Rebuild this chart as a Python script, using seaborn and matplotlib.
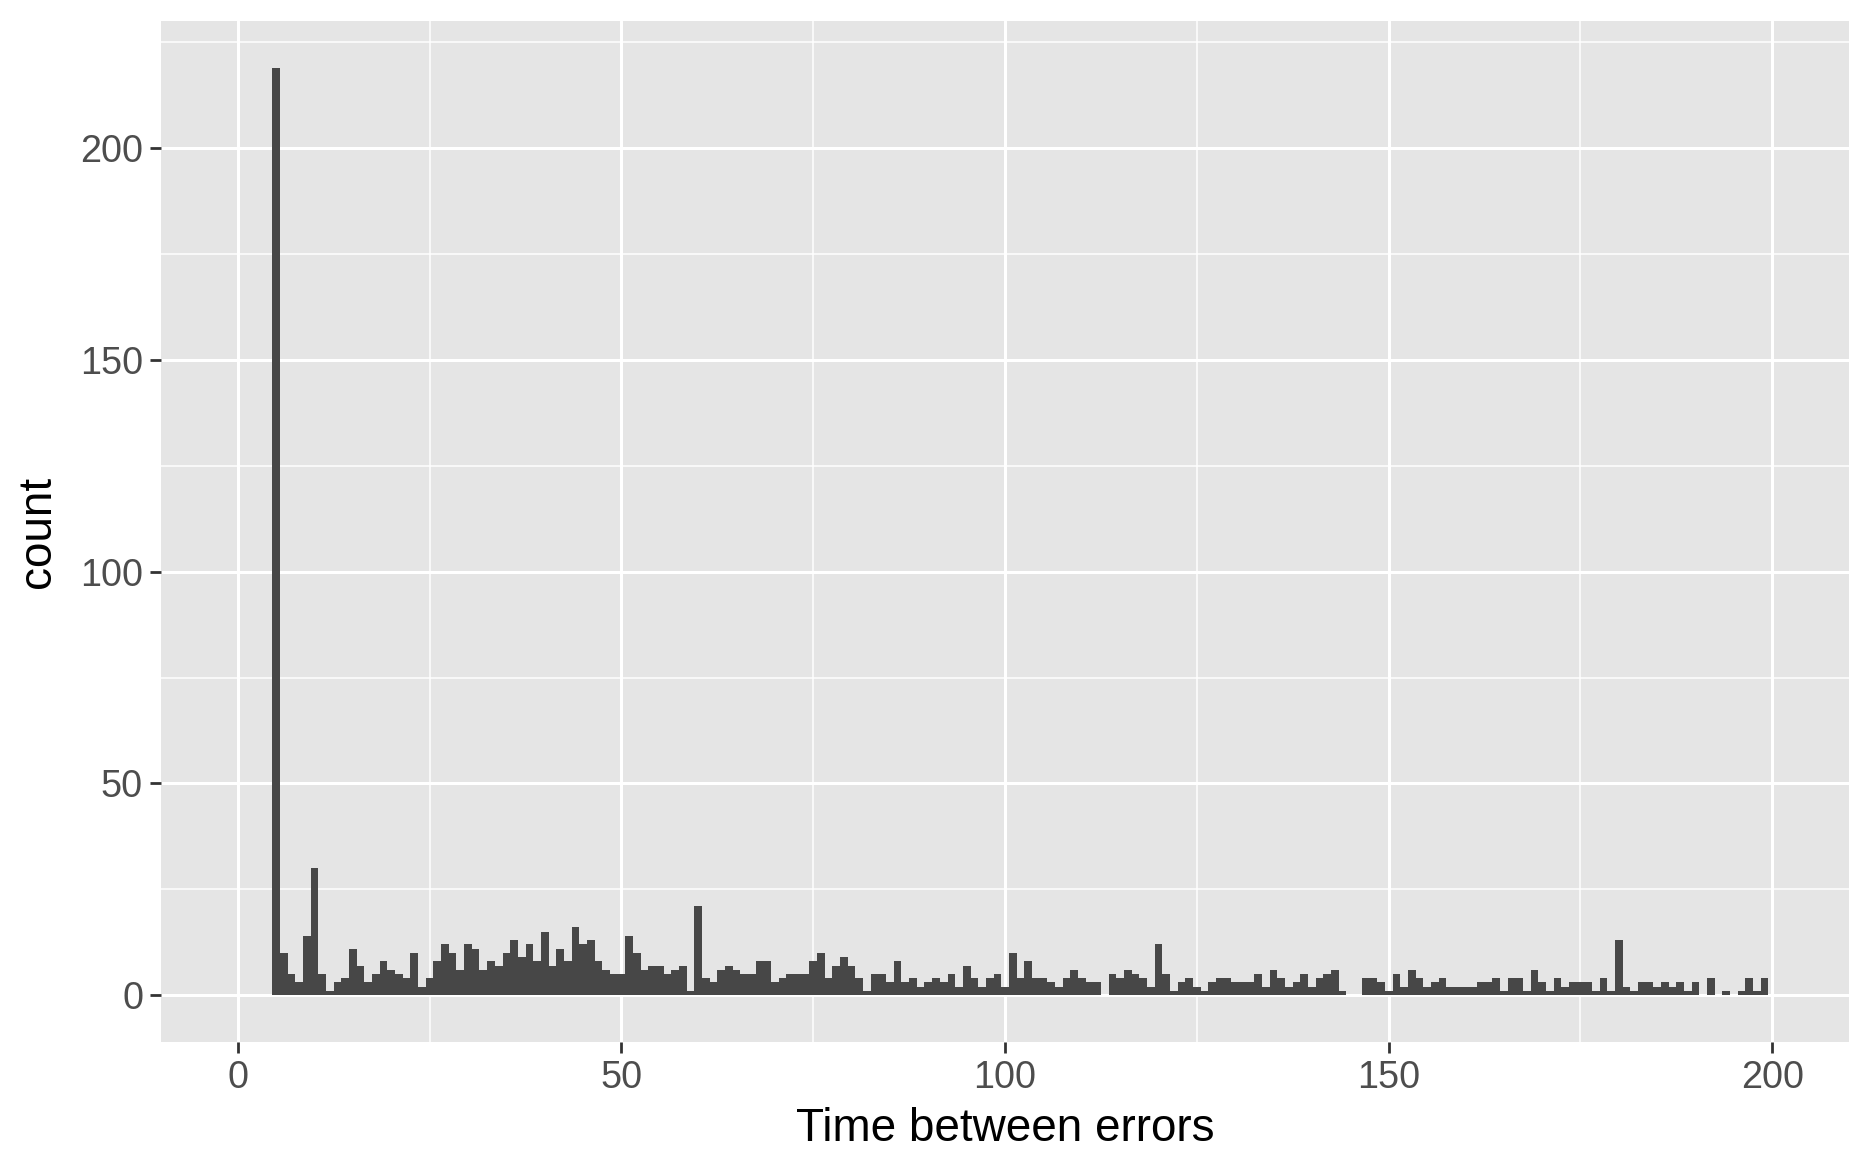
import numpy as np
import pandas as pd
import matplotlib
matplotlib.use("Agg")
import matplotlib.pyplot as plt
import seaborn as sns

# Data: integer "time between errors" values and their counts (binwidth 1)
times = list(range(5, 200))
counts = [
    219, 10, 5, 3, 14, 30, 5, 1, 3, 4,          # 5-14
    11, 7, 3, 5, 8, 6, 5, 4, 10, 2,             # 15-24
    4, 8, 12, 10, 6, 12, 11, 6, 8, 7,           # 25-34
    10, 13, 9, 12, 8, 15, 7, 11, 8, 16,         # 35-44
    12, 13, 8, 6, 5, 5, 14, 10, 6, 7,           # 45-54
    7, 5, 6, 7, 1, 21, 4, 3, 6, 7,              # 55-64
    6, 5, 5, 8, 8, 3, 4, 5, 5, 5,               # 65-74
    8, 10, 4, 7, 9, 7, 4, 1, 5, 5,              # 75-84
    3, 8, 3, 4, 2, 3, 4, 3, 5, 2,               # 85-94
    7, 4, 2, 4, 5, 2, 10, 4, 8, 4,              # 95-104
    4, 3, 2, 4, 6, 4, 3, 3, 0, 5,               # 105-114
    4, 6, 5, 4, 2, 12, 5, 1, 3, 4,              # 115-124
    2, 1, 3, 4, 4, 3, 3, 3, 5, 2,               # 125-134
    6, 4, 2, 3, 5, 2, 4, 5, 6, 1,               # 135-144
    0, 0, 4, 4, 3, 1, 5, 2, 6, 4,               # 145-154
    2, 3, 4, 2, 2, 2, 2, 3, 3, 4,               # 155-164
    1, 4, 4, 1, 6, 3, 1, 4, 2, 3,               # 165-174
    3, 3, 1, 4, 1, 13, 2, 1, 3, 3,              # 175-184
    2, 3, 2, 3, 1, 3, 0, 4, 0, 1,               # 185-194
    0, 1, 4, 1, 4,                              # 195-199
]
x_ticks = [0, 50, 100, 150, 200]
y_ticks = [0, 50, 100, 150, 200]
x_label = "Time between errors"
y_label = "count"

df = pd.DataFrame({"time": times, "n": counts})

sns.set_theme(style="darkgrid")
plt.rcParams["font.family"] = ["Liberation Sans", "DejaVu Sans"]

fig = plt.figure(figsize=(1873 / 200, 1167 / 200), dpi=200)
ax = fig.add_axes([0.086, 0.1075, 0.9012, 0.8741])

sns.histplot(data=df, x="time", weights="n", discrete=True, shrink=1.0,
             color="#474747", alpha=1.0, linewidth=0, edgecolor="none", ax=ax)

ax.set_facecolor("#E5E5E5")
ax.set_xlim(-10, 210)
ax.set_ylim(-10.95, 229.95)
ax.set_xticks(x_ticks)
ax.set_yticks(y_ticks)
ax.set_xticks([25, 75, 125, 175], minor=True)
ax.set_yticks([25, 75, 125, 175, 225], minor=True)
ax.grid(which="major", color="white", linewidth=1.1)
ax.grid(which="minor", color="white", linewidth=0.55)
ax.set_axisbelow(True)
for s in ax.spines.values():
    s.set_visible(False)

ax.tick_params(axis="both", which="major", length=4.0, width=1.0, color="#333333",
               labelsize=13.6, labelcolor="#4D4D4D", pad=2.5, bottom=True, left=True)
ax.tick_params(axis="both", which="minor", length=0)

ax.set_xlabel(x_label, fontsize=16.5, color="black", labelpad=4)
ax.set_ylabel(y_label, fontsize=16.5, color="black", labelpad=7)

fig.savefig("out.png", dpi=200)
